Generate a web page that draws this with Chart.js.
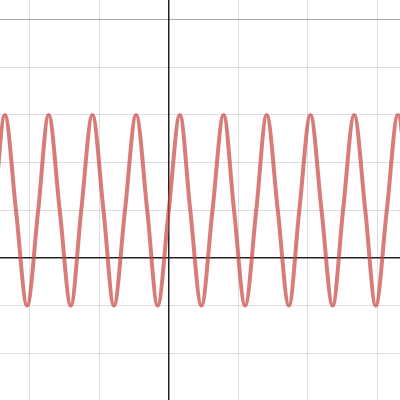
<!DOCTYPE html>
<html>
<head>
<meta charset="utf-8">
<script src="https://cdn.jsdelivr.net/npm/chart.js@4"></script>
<style>
  html, body { margin: 0; padding: 0; background: #fff; }
  #wrap { width: 400px; height: 400px; }
</style>
</head>
<body>
<div id="wrap"><canvas id="graf"></canvas></div>
<script>
// Points: crossings, peaks and troughs
const puntosX = [-2.51, -2.36, -2.20, -2.04, -1.88, -1.73, -1.57, -1.41, -1.26, -1.10,
  -0.94, -0.79, -0.63, -0.47, -0.31, -0.16, 0, 0.16, 0.31, 0.47,
  0.63, 0.79, 0.94, 1.10, 1.26, 1.41, 1.57, 1.73, 1.88, 2.04,
  2.20, 2.36, 2.51, 2.67, 2.83, 2.98, 3.14, 3.30, 3.46];
const puntosY = [1, 3, 1, -1, 1, 3, 1, -1, 1, 3,
  1, -1, 1, 3, 1, -1, 1, 3, 1, -1,
  1, 3, 1, -1, 1, 3, 1, -1, 1, 3,
  1, -1, 1, 3, 1, -1, 1, 3, 1];

// Grid lines
const lineasX = [-2, -1, 0, 1, 2, 3];
const lineasY = [-2, -1, 0, 1, 2, 3, 4, 5];

const datos = puntosX.map((x, i) => ({ x: x, y: puntosY[i] }));

function colorGrilla(ctx) {
  const v = ctx.tick.value;
  if (v === 0) return '#222';
  if (v % 5 === 0) return 'rgba(0,0,0,0.35)';
  return 'rgba(0,0,0,0.13)';
}

new Chart(document.getElementById('graf'), {
  type: 'line',
  data: {
    datasets: [{
      data: datos,
      borderColor: 'rgba(199,68,64,0.7)',
      borderWidth: 4,
      pointRadius: 0,
      fill: false,
      cubicInterpolationMode: 'monotone'
    }]
  },
  options: {
    responsive: true,
    maintainAspectRatio: false,
    animation: false,
    layout: { padding: 0 },
    plugins: { legend: { display: false }, tooltip: { enabled: false } },
    scales: {
      x: {
        type: 'linear', min: -2.43, max: 3.33,
        ticks: { display: false },
        afterBuildTicks: a => { a.ticks = lineasX.map(v => ({ value: v })); },
        border: { display: false },
        grid: { color: colorGrilla, lineWidth: c => c.tick.value === 0 ? 1.5 : 1, drawTicks: false }
      },
      y: {
        type: 'linear', min: -2.98, max: 5.41,
        ticks: { display: false },
        afterBuildTicks: a => { a.ticks = lineasY.map(v => ({ value: v })); },
        border: { display: false },
        grid: { color: colorGrilla, lineWidth: c => c.tick.value === 0 ? 1.5 : 1, drawTicks: false }
      }
    }
  }
});
</script>
</body>
</html>
